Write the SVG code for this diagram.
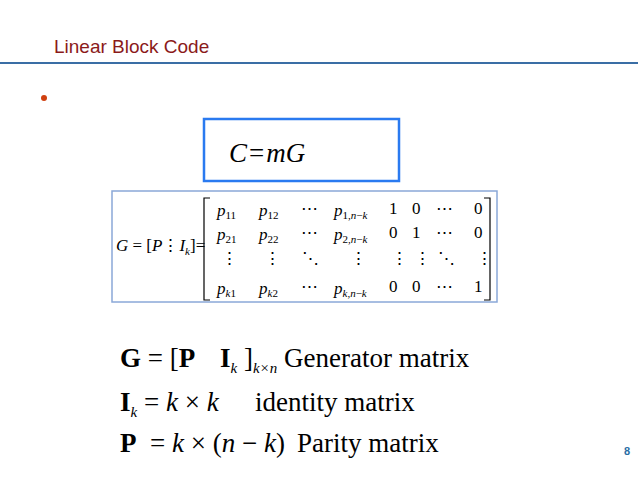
<svg xmlns="http://www.w3.org/2000/svg" width="638" height="478" viewBox="0 0 638 478">
<style>
.m{font-family:"Liberation Serif",serif;font-size:17px;fill:#000}
.i{font-style:italic}
.s{font-size:11px}
.b{font-family:"Liberation Serif",serif;font-size:27px;fill:#000}
</style>
<rect width="638" height="478" fill="#fff"/>
<g id="title"><text x="54" y="53" font-family="Liberation Sans,sans-serif" font-size="19" fill="#8b1a1a">Linear Block Code</text>
<line x1="0" y1="63" x2="638" y2="63" stroke="#3a6ea5" stroke-width="2"/>
<circle cx="44" cy="98" r="3" fill="#d04010"/></g>
<g id="cmg"><rect x="204" y="119" width="195" height="62" fill="none" stroke="#2a7af0" stroke-width="2.5"/>
<text x="229" y="162" class="b" font-size="34"><tspan class="i">C</tspan><tspan dx="2">=</tspan><tspan class="i" dx="2">mG</tspan></text></g>
<g id="matrix"><rect x="112" y="191" width="385" height="111" fill="none" stroke="#8aa8d8" stroke-width="1.5"/>
<text x="116" y="251" class="m"><tspan class="i">G</tspan> = [<tspan class="i">P</tspan>⋮<tspan class="i">I</tspan><tspan class="s i" dy="4">k</tspan><tspan dy="-4">]=</tspan></text>
<path d="M210 198H204V300H210M484 198H490V300H484" fill="none" stroke="#000" stroke-width="1.2"/>
<g class="m">
<text x="217" y="216"><tspan class="i">p</tspan><tspan class="s" dy="3">11</tspan></text>
<text x="259" y="216"><tspan class="i">p</tspan><tspan class="s" dy="3">12</tspan></text>
<text x="301" y="214">⋯</text>
<text x="334" y="216"><tspan class="i">p</tspan><tspan class="s" dy="3">1,<tspan class="i">n</tspan>−<tspan class="i">k</tspan></tspan></text>
<text x="389" y="214">1</text><text x="412" y="214">0</text><text x="436" y="214">⋯</text><text x="474" y="214">0</text>
<text x="217" y="240"><tspan class="i">p</tspan><tspan class="s" dy="3">21</tspan></text>
<text x="259" y="240"><tspan class="i">p</tspan><tspan class="s" dy="3">22</tspan></text>
<text x="301" y="238">⋯</text>
<text x="334" y="240"><tspan class="i">p</tspan><tspan class="s" dy="3">2,<tspan class="i">n</tspan>−<tspan class="i">k</tspan></tspan></text>
<text x="389" y="238">0</text><text x="412" y="238">1</text><text x="436" y="238">⋯</text><text x="474" y="238">0</text>
<text x="221" y="264">⋮</text><text x="264" y="264">⋮</text><text x="302" y="264">⋱</text><text x="350" y="264">⋮</text>
<text x="391" y="264">⋮</text><text x="414" y="264">⋮</text><text x="438" y="264">⋱</text><text x="476" y="264">⋮</text>
<text x="217" y="294"><tspan class="i">p</tspan><tspan class="s" dy="3"><tspan class="i">k</tspan>1</tspan></text>
<text x="259" y="294"><tspan class="i">p</tspan><tspan class="s" dy="3"><tspan class="i">k</tspan>2</tspan></text>
<text x="301" y="292">⋯</text>
<text x="334" y="294"><tspan class="i">p</tspan><tspan class="s" dy="3"><tspan class="i">k</tspan>,<tspan class="i">n</tspan>−<tspan class="i">k</tspan></tspan></text>
<text x="389" y="292">0</text><text x="412" y="292">0</text><text x="436" y="292">⋯</text><text x="474" y="292">1</text>
</g></g>
<g id="defs-text" class="b">
<text x="120" y="367"><tspan font-weight="bold">G</tspan> = [<tspan font-weight="bold">P</tspan><tspan x="220" font-weight="bold">I</tspan><tspan font-size="15" class="i" dy="6">k</tspan><tspan dy="-6"> ]</tspan><tspan font-size="15" class="i" dy="6">k×n</tspan><tspan dy="-6" x="284">Generator matrix</tspan></text>
<text x="120" y="411"><tspan font-weight="bold">I</tspan><tspan font-size="15" class="i" dy="6">k</tspan><tspan dy="-6"> = </tspan><tspan class="i">k</tspan> × <tspan class="i">k</tspan><tspan x="255">identity matrix</tspan></text>
<text x="120" y="452"><tspan font-weight="bold">P</tspan><tspan x="150">= </tspan><tspan class="i">k</tspan> × (<tspan class="i">n</tspan> − <tspan class="i">k</tspan>)<tspan x="297">Parity matrix</tspan></text>
</g>
<text x="624" y="455" font-family="Liberation Sans,sans-serif" font-size="11" font-weight="bold" fill="#2a6ea5">8</text>
</svg>
